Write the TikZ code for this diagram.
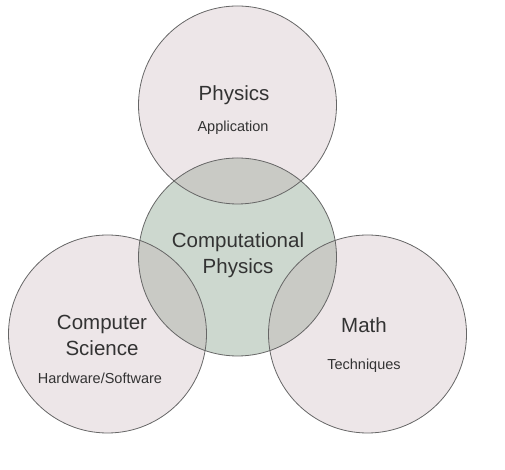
\documentclass[tikz,border=0pt]{standalone}
\usepackage{fontspec}
\setmainfont{Liberation Sans}
\definecolor{pinkfill}{HTML}{EDE6E8}
\definecolor{greenfill}{HTML}{CDD8CF}
\definecolor{overlapfill}{HTML}{C9CAC5}
\definecolor{edgecol}{HTML}{666666}
\definecolor{textcol}{HTML}{333333}
\tikzset{
  venn/.style={circle, minimum size=198pt, inner sep=0pt, draw=edgecol, line width=0.8pt},
  bigtxt/.style={text=textcol, font=\fontsize{20.5}{24}\selectfont, align=center, inner sep=0pt},
  smalltxt/.style={text=textcol, font=\fontsize{14.5}{17}\selectfont, inner sep=0pt}
}
\begin{document}
\begin{tikzpicture}[x=1pt,y=1pt]
\useasboundingbox (0,0) rectangle (505,470);
\coordinate (pc) at (237.5,365);
\coordinate (cc) at (237.5,213);
\coordinate (sc) at (107.5,136);
\coordinate (mc) at (367.5,136);
% fills
\fill[pinkfill] (pc) circle (99);
\fill[pinkfill] (sc) circle (99);
\fill[pinkfill] (mc) circle (99);
\fill[greenfill] (cc) circle (99);
\begin{scope}
  \clip (cc) circle (99);
  \fill[overlapfill] (pc) circle (99);
  \fill[overlapfill] (sc) circle (99);
  \fill[overlapfill] (mc) circle (99);
\end{scope}
% outlines
\node[venn] (phys) at (pc) {};
\node[venn] (comp) at (cc) {};
\node[venn] (cs) at (sc) {};
\node[venn] (math) at (mc) {};
% texts
\node[bigtxt] (physt) at (234,375) {Physics};
\node[smalltxt] (appt) at (233,342) {Application};
\node[bigtxt, align=center] (compt) at (238,215) {Computational\\[2pt]Physics};
\node[bigtxt, align=center] (cst) at (102,135) {Computer\\[2pt]Science};
\node[smalltxt] (hwt) at (100,92) {Hardware/Software};
\node[bigtxt] (matht) at (364,145) {Math};
\node[smalltxt] (techt) at (364,104) {Techniques};
\end{tikzpicture}
\end{document}
